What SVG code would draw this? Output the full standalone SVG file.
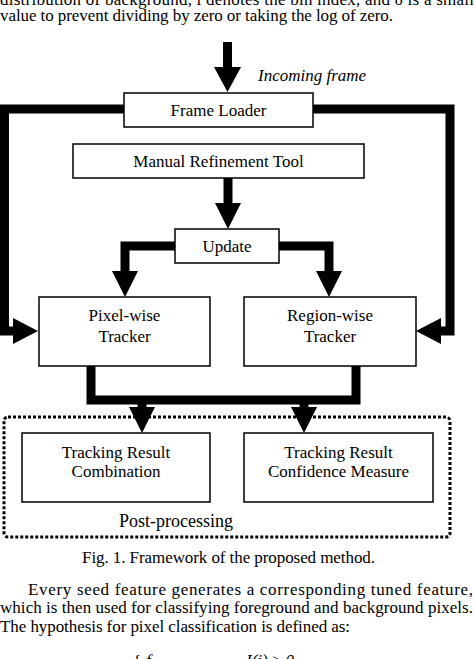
<svg xmlns="http://www.w3.org/2000/svg" width="474" height="659" viewBox="0 0 474 659">
<style>
.box{fill:#fff;stroke:#000;stroke-width:1.5}
.t{font-family:"Liberation Serif","Times New Roman",serif;font-size:17px;fill:#000;text-anchor:middle}
.body{font-family:"Liberation Serif","Times New Roman",serif;font-size:17px;fill:#000}
.wire{fill:none;stroke:#000;stroke-width:9;stroke-linejoin:miter}
.head{fill:#000}
</style>
<rect width="474" height="659" fill="#fff"/>
<text class="body" x="0" y="5" textLength="474" lengthAdjust="spacing">distribution of background, i denotes the bin index, and δ is a small</text>
<text class="body" x="0" y="21" textLength="393" lengthAdjust="spacing">value to prevent dividing by zero or taking the log of zero.</text>

<g id="connectors">
<path class="wire" d="M227.5,42 V68"/>
<polygon class="head" points="214,67 241,67 227.5,92"/>
<path class="wire" d="M124,109 H4.5 V331 H15"/>
<polygon class="head" points="13,318 38,331 13,344"/>
<path class="wire" d="M313,109 H450 V331 H440"/>
<polygon class="head" points="441,318 416,331 441,344"/>
<path class="wire" d="M228,178 V204"/>
<polygon class="head" points="215,203 241,203 228,229"/>
<path class="wire" d="M175,246 H125 V272"/>
<polygon class="head" points="112,271 138,271 125,297"/>
<path class="wire" d="M279,246 H329 V272"/>
<polygon class="head" points="316,271 342,271 329,297"/>
<path class="wire" d="M91,366 V400 H356 V366"/>
<path class="wire" d="M142,400 V409 M304,400 V409"/>
<polygon class="head" points="129,407 155,407 142,433"/>
<polygon class="head" points="291,407 317,407 304,433"/>
</g>

<text x="258" y="81" font-family="Liberation Serif, serif" font-size="17" font-style="italic">Incoming frame</text>

<g id="frame-loader">
<rect class="box" x="124" y="93" width="189" height="34"/>
<text class="t" x="218.5" y="116">Frame Loader</text>
</g>
<g id="manual-refinement">
<rect class="box" x="73" y="144" width="291" height="34"/>
<text class="t" x="218.5" y="167">Manual Refinement Tool</text>
</g>
<g id="update">
<rect class="box" x="175" y="229" width="104" height="34"/>
<text class="t" x="227" y="252">Update</text>
</g>
<g id="pixel-tracker">
<rect class="box" x="39" y="297" width="171" height="69"/>
<text class="t" x="124.5" y="321">Pixel-wise</text>
<text class="t" x="124.5" y="342">Tracker</text>
</g>
<g id="region-tracker">
<rect class="box" x="244" y="297" width="172" height="69"/>
<text class="t" x="330" y="321">Region-wise</text>
<text class="t" x="330" y="342">Tracker</text>
</g>
<g id="post-processing">
<rect x="4" y="417" width="446" height="120" rx="4" fill="none" stroke="#000" stroke-width="3" stroke-dasharray="3 2"/>
<text x="119" y="527" font-family="Liberation Serif, serif" font-size="18">Post-processing</text>
</g>
<g id="combination">
<rect class="box" x="22" y="433" width="188" height="69"/>
<text class="t" x="116" y="458">Tracking Result</text>
<text class="t" x="116" y="477">Combination</text>
</g>
<g id="confidence">
<rect class="box" x="244" y="433" width="189" height="69"/>
<text class="t" x="338.5" y="458">Tracking Result</text>
<text class="t" x="338.5" y="477">Confidence Measure</text>
</g>

<text class="t" x="228.5" y="563" font-size="16" textLength="293" lengthAdjust="spacing">Fig. 1. Framework of the proposed method.</text>

<text class="body" x="28" y="595" textLength="445" lengthAdjust="spacing">Every seed feature generates a corresponding tuned feature,</text>
<text class="body" x="0" y="613" textLength="473" lengthAdjust="spacing">which is then used for classifying foreground and background pixels.</text>
<text class="body" x="0" y="632" textLength="350" lengthAdjust="spacing">The hypothesis for pixel classification is defined as:</text>
<text class="body" x="133" y="667" font-size="22">{</text>
<text class="body" x="146" y="666" font-size="18" font-style="italic">f</text>
<text class="body" x="246" y="666" font-size="18" font-style="italic">I(i) ≥ 0</text>
</svg>
